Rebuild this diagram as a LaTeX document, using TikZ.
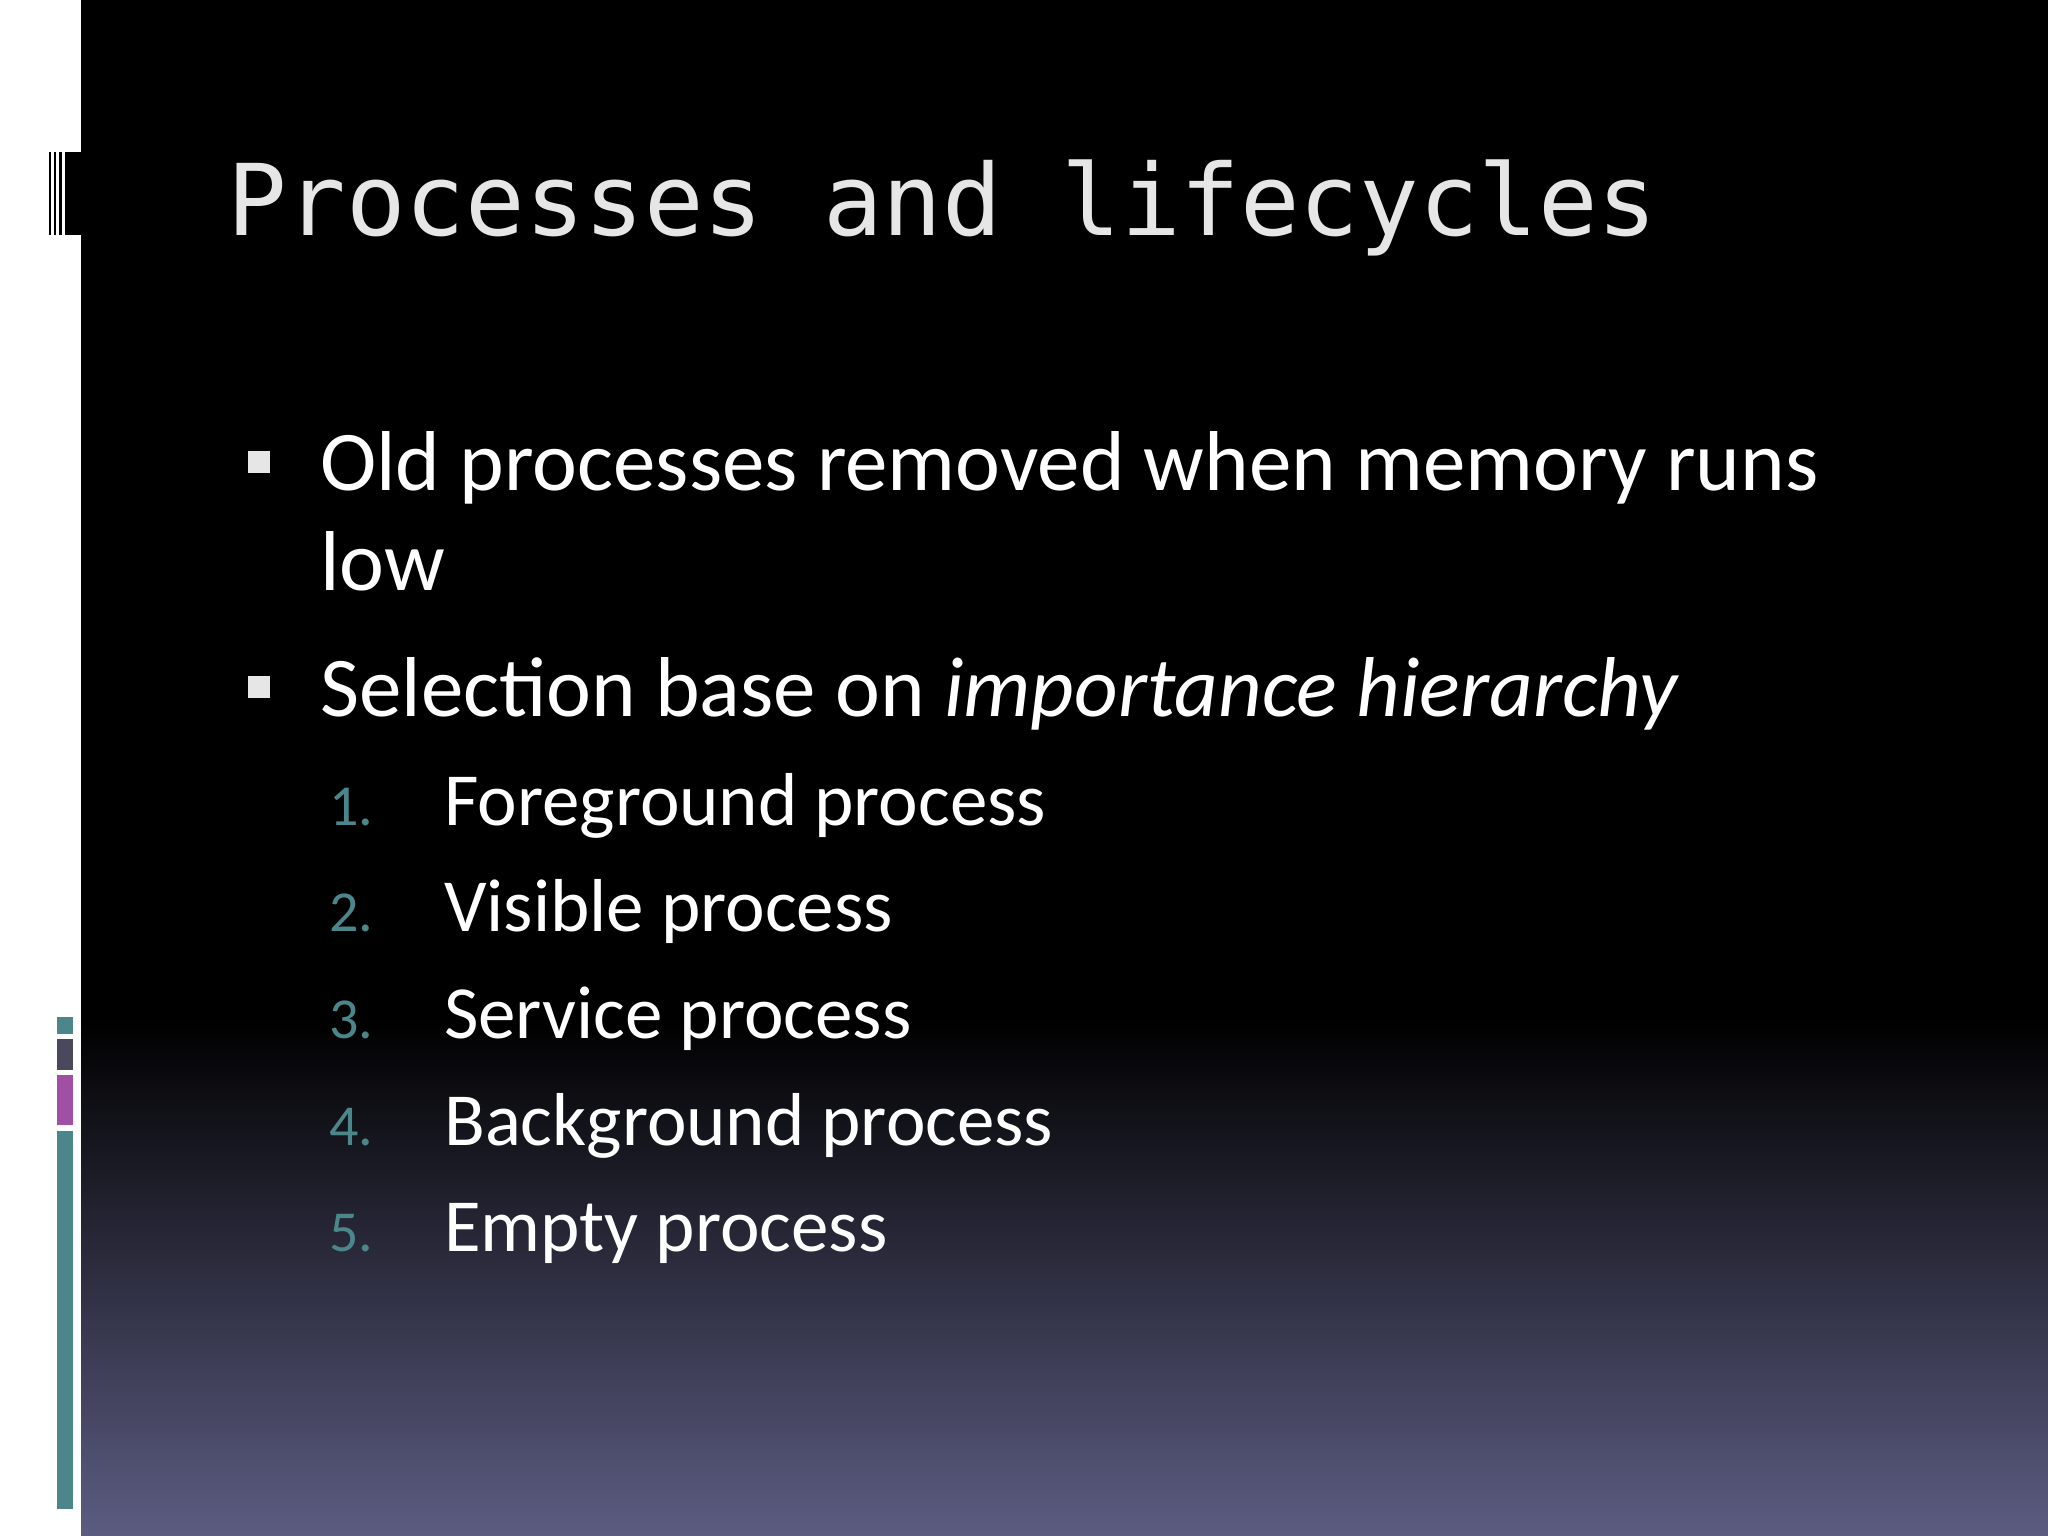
\documentclass[tikz,border=0pt]{standalone}
\usepackage{fontspec}
\setmainfont{Carlito}
\newfontfamily\titlefont{DejaVu Sans Mono}
\definecolor{bgbot}{RGB}{92,92,130}
\definecolor{tealc}{RGB}{74,134,138}
\definecolor{darkc}{RGB}{74,72,92}
\definecolor{purp}{RGB}{160,80,164}
\definecolor{titlec}{RGB}{230,230,230}
\begin{document}
\begin{tikzpicture}[x=1pt,y=-1pt,
  body/.style={anchor=base west,inner sep=0pt,text=white,font=\fontsize{85}{100}\selectfont},
  sub/.style={anchor=base west,inner sep=0pt,text=white,font=\fontsize{75}{90}\selectfont},
  num/.style={anchor=base west,inner sep=0pt,text=tealc,font=\fontsize{58}{70}\selectfont},
  bul/.style={fill=titlec,minimum size=22pt,inner sep=0pt}]
\useasboundingbox (0,0) rectangle (2048,1536);
\fill[white] (0,0) rectangle (81,1536);
\fill[black] (81,0) rectangle (2048,1020);
\shade[top color=black,bottom color=bgbot] (81,1019) rectangle (2048,1536);
% barcode
\fill[black] (49,152) rectangle (51,235);
\fill[black] (54,152) rectangle (56,235);
\fill[black] (59,152) rectangle (62,235);
\fill[black] (65,152) rectangle (81,235);
% side bars
\fill[tealc] (57,1017) rectangle (73,1034);
\fill[darkc] (57,1039) rectangle (73,1070);
\fill[purp] (57,1075) rectangle (73,1125);
\fill[tealc] (57,1131) rectangle (73,1509);
\node[anchor=base west,inner sep=0pt,text=titlec,font=\titlefont\fontsize{99}{110}\selectfont] (title) at (227,235) {Processes and lifecycles};
\node[bul] (b1) at (259,462) {};
\node[bul] (b2) at (259,687) {};
\node[body] (t1) at (320,490) {Old processes removed when memory runs};
\node[body] (t1b) at (320,590) {low};
\node[body] (t2) at (320,716) {Selec{}tion base on \textit{importance hierarchy}};
\foreach \n/\t/\y in {1/Foreground process/825,2/Visible process/931,3/Service process/1038,4/Background process/1145,5/Empty process/1251}{
  \node[num] (n\n) at (329,\y) {\n.};
  \node[sub] (s\n) at (444,\y) {\t};
}
\end{tikzpicture}
\end{document}
